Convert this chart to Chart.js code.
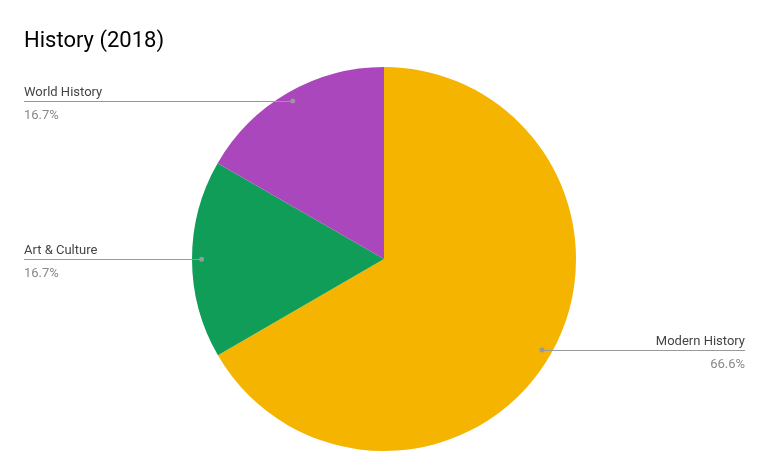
<!DOCTYPE html>
<html><head><meta charset="utf-8">
<script src="https://cdn.jsdelivr.net/npm/chart.js@4"></script>
<style>html,body{margin:0;padding:0;background:#fff}#w{width:768px;height:475px}</style>
</head><body><div id="w"><canvas id="c"></canvas></div>
<script>
const categories = ["Modern History", "Art & Culture", "World History"];
const values = [66.7, 16.7, 16.7];
const colors = ["#F4B400", "#0F9D58", "#AB47BC"];
const chartTitle = "History (2018)";

const labelPlugin = {
  id: 'lbl',
  afterDraw(chart) {
    const ctx = chart.ctx;
    ctx.save();
    ctx.fillStyle = '#000';
    ctx.font = '22px Roboto';
    ctx.textAlign = 'left'; ctx.textBaseline = 'alphabetic';
    ctx.fillText(chartTitle, 24, 47);
    const meta = chart.getDatasetMeta(0);
    const total = values.reduce((a,b)=>a+b,0);
    meta.data.forEach((arc, i) => {
      const mid = (arc.startAngle + arc.endAngle) / 2;
      const r = arc.outerRadius * 0.95;
      const px = arc.x + Math.cos(mid) * r, py = arc.y + Math.sin(mid) * r;
      const right = Math.cos(mid) > 0;
      const ex = right ? chart.width - 23 : 24;
      ctx.strokeStyle = '#999'; ctx.lineWidth = 1;
      ctx.beginPath(); ctx.moveTo(px, Math.round(py)+0.5); ctx.lineTo(ex, Math.round(py)+0.5); ctx.stroke();
      ctx.fillStyle = '#999'; ctx.beginPath(); ctx.arc(px, py, 2.5, 0, Math.PI*2); ctx.fill();
      ctx.textAlign = right ? 'right' : 'left';
      ctx.font = '13px Roboto'; ctx.fillStyle = '#444';
      ctx.fillText(categories[i], ex, py - 5);
      ctx.fillStyle = '#888';
      ctx.fillText((values[i]/total*100).toFixed(1) + '%', ex, py + 18);
    });
    ctx.restore();
  }
};

new Chart(document.getElementById('c'), {
  type: 'pie',
  data: { labels: categories, datasets: [{ data: values, backgroundColor: colors, borderWidth: 0 }] },
  options: {
    responsive: true, maintainAspectRatio: false, animation: false,
    layout: { padding: { top: 67, bottom: 24 } },
    plugins: { legend: { display: false }, tooltip: { enabled: false } }
  },
  plugins: [labelPlugin]
});
</script></body></html>
